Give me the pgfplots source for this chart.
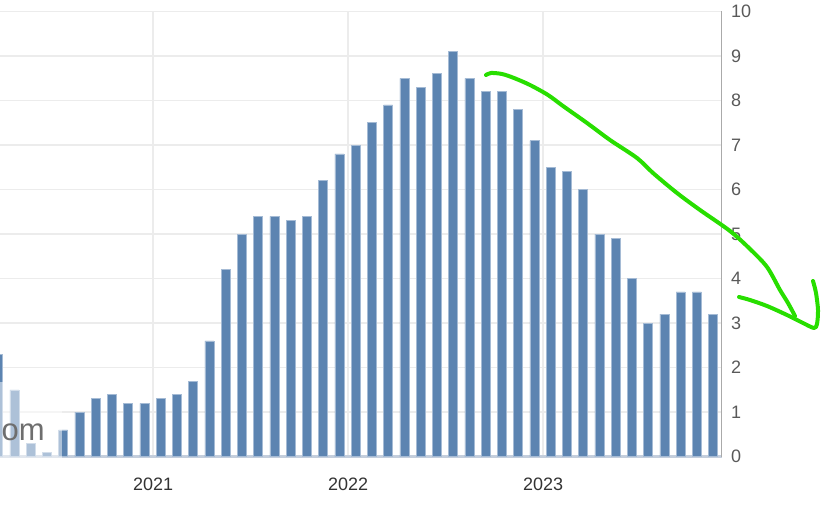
\documentclass[border=0pt]{standalone}
\usepackage{fontspec}
\setmainfont{Liberation Sans}
\usepackage{pgfplots}
\pgfplotsset{compat=1.18}
\definecolor{barblue}{RGB}{92,132,177}
\definecolor{baredge}{RGB}{165,187,213}
\definecolor{gridgray}{RGB}{236,236,236}
\definecolor{rightaxis}{RGB}{170,170,170}
\definecolor{baseaxis}{RGB}{196,206,220}
\definecolor{pen}{RGB}{40,222,0}

\begin{document}
\begin{tikzpicture}
\useasboundingbox (0pt,0pt) rectangle (830pt,507pt);
\begin{axis}[
  at={(0pt,50.3pt)}, anchor=south west,
  scale only axis, width=721.5pt, height=445.2pt,
  xmin=1.111, xmax=45.51, ymin=0, ymax=10,
  axis x line*=bottom, axis y line*=right,
  x axis line style={-, draw=baseaxis, line width=2.5pt},
  y axis line style={-, draw=rightaxis, line width=1.5pt},
  xtick={10.53,22.53,34.53}, xticklabels={2021,2022,2023},
  ytick={0,1,...,10},
  major tick length=0pt,
  grid=major, major grid style={draw=gridgray, line width=1.6pt},
  xticklabel style={font=\fontsize{18}{18}\selectfont, text=black!80,
    anchor=north, inner sep=0pt, yshift=-21pt},
  yticklabel style={font=\fontsize{18}{18}\selectfont, text=black!65,
    anchor=west, inner sep=0pt, xshift=9.5pt},
  /pgf/number format/assume math mode=true,
]
% monthly values, index 0 = Jan 2020
\addplot[ybar, bar width=9pt, fill=barblue, draw=baredge, line width=0.8pt]
  coordinates {
  (0,2.5) (1,2.3) (2,1.5) (3,0.3) (4,0.1) (5,0.6) (6,1.0) (7,1.3)
  (8,1.4) (9,1.2) (10,1.2) (11,1.3) (12,1.4) (13,1.7) (14,2.6) (15,4.2)
  (16,5.0) (17,5.4) (18,5.4) (19,5.3) (20,5.4) (21,6.2) (22,6.8) (23,7.0)
  (24,7.5) (25,7.9) (26,8.5) (27,8.3) (28,8.6) (29,9.1) (30,8.5) (31,8.2)
  (32,8.2) (33,7.8) (34,7.1) (35,6.5) (36,6.4) (37,6.0) (38,5.0) (39,4.9)
  (40,4.0) (41,3.0) (42,3.2) (43,3.7) (44,3.7) (45,3.2)};
\end{axis}
% faded watermark area
\fill[white, opacity=0.5] (0pt,48pt) rectangle (62pt,125pt);
\node[anchor=base east, inner sep=0pt, text={rgb,255:red,110;green,110;blue,110},
  font=\fontsize{31}{31}\selectfont] at (45pt,67pt) {om};
% hand-drawn arrow
\begin{scope}[x=1pt, y=1pt, yshift=507pt, yscale=-1]
\draw[pen, line width=4pt, line cap=round, line join=round]
  plot[smooth, tension=0.5] coordinates {(486,75) (491,73) (502,74) (514,78)
  (530,85) (548,95) (563,106) (587,123) (610,140) (637,158) (653,173)
  (677,193) (700,210) (730,231) (750,249) (767,267) (780,290) (788,303)
  (795,316)};
\draw[pen, line width=4pt, line cap=round, line join=round]
  plot[smooth, tension=0.5] coordinates {(739,297) (750,300) (767,306)
  (787,315) (803,323) (814,328) (817,324) (818,310) (816,293) (813,281)};
\end{scope}
\end{tikzpicture}
\end{document}
